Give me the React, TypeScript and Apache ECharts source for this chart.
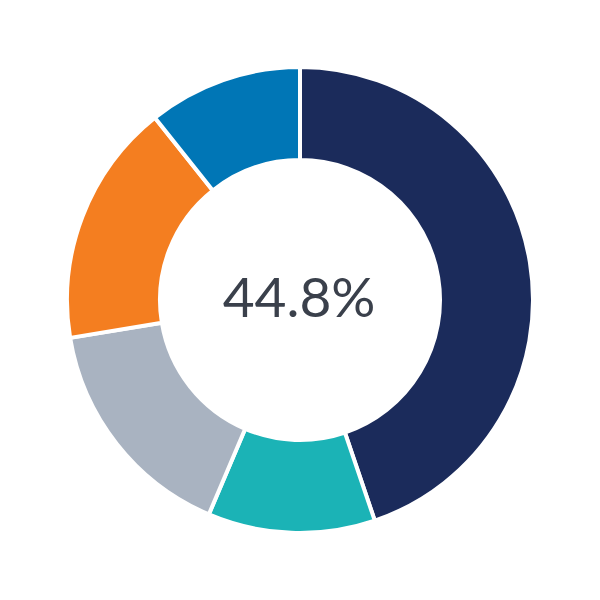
import React, { useEffect, useRef } from "react";
import * as echarts from "echarts";

const categories = ["A", "B", "C", "D", "E"];
const values = [44.8, 11.6, 16.0, 16.9, 10.7];
const colors = ["#1b2b5b", "#1bb3b6", "#a9b3c1", "#f47e20", "#0076b6"];
const centerLabel = "44.8%";

export default function App() {
  const ref = useRef<HTMLDivElement>(null);
  useEffect(() => {
    const chart = echarts.init(ref.current!, undefined, { renderer: "svg" });
    chart.setOption({
      animation: false,
      backgroundColor: "#ffffff",
      graphic: [
        {
          type: "text",
          x: 299,
          y: 296,
          style: {
            text: centerLabel,
            font: "400 55px Lato, 'Open Sans', sans-serif",
            fill: "#3a404b",
            textAlign: "center",
            textVerticalAlign: "middle",
          },
        },
      ],
      series: [
        {
          type: "pie",
          center: [300, 300],
          radius: [140, 233],
          startAngle: 90,
          clockwise: true,
          label: { show: false },
          labelLine: { show: false },
          emphasis: { disabled: true },
          itemStyle: { borderColor: "#ffffff", borderWidth: 4 },
          data: categories.map((c, i) => ({
            name: c,
            value: values[i],
            itemStyle: { color: colors[i] },
          })),
        },
      ],
    });
    return () => chart.dispose();
  }, []);
  return <div ref={ref} style={{ width: 600, height: 600, margin: -8 }} />;
}
